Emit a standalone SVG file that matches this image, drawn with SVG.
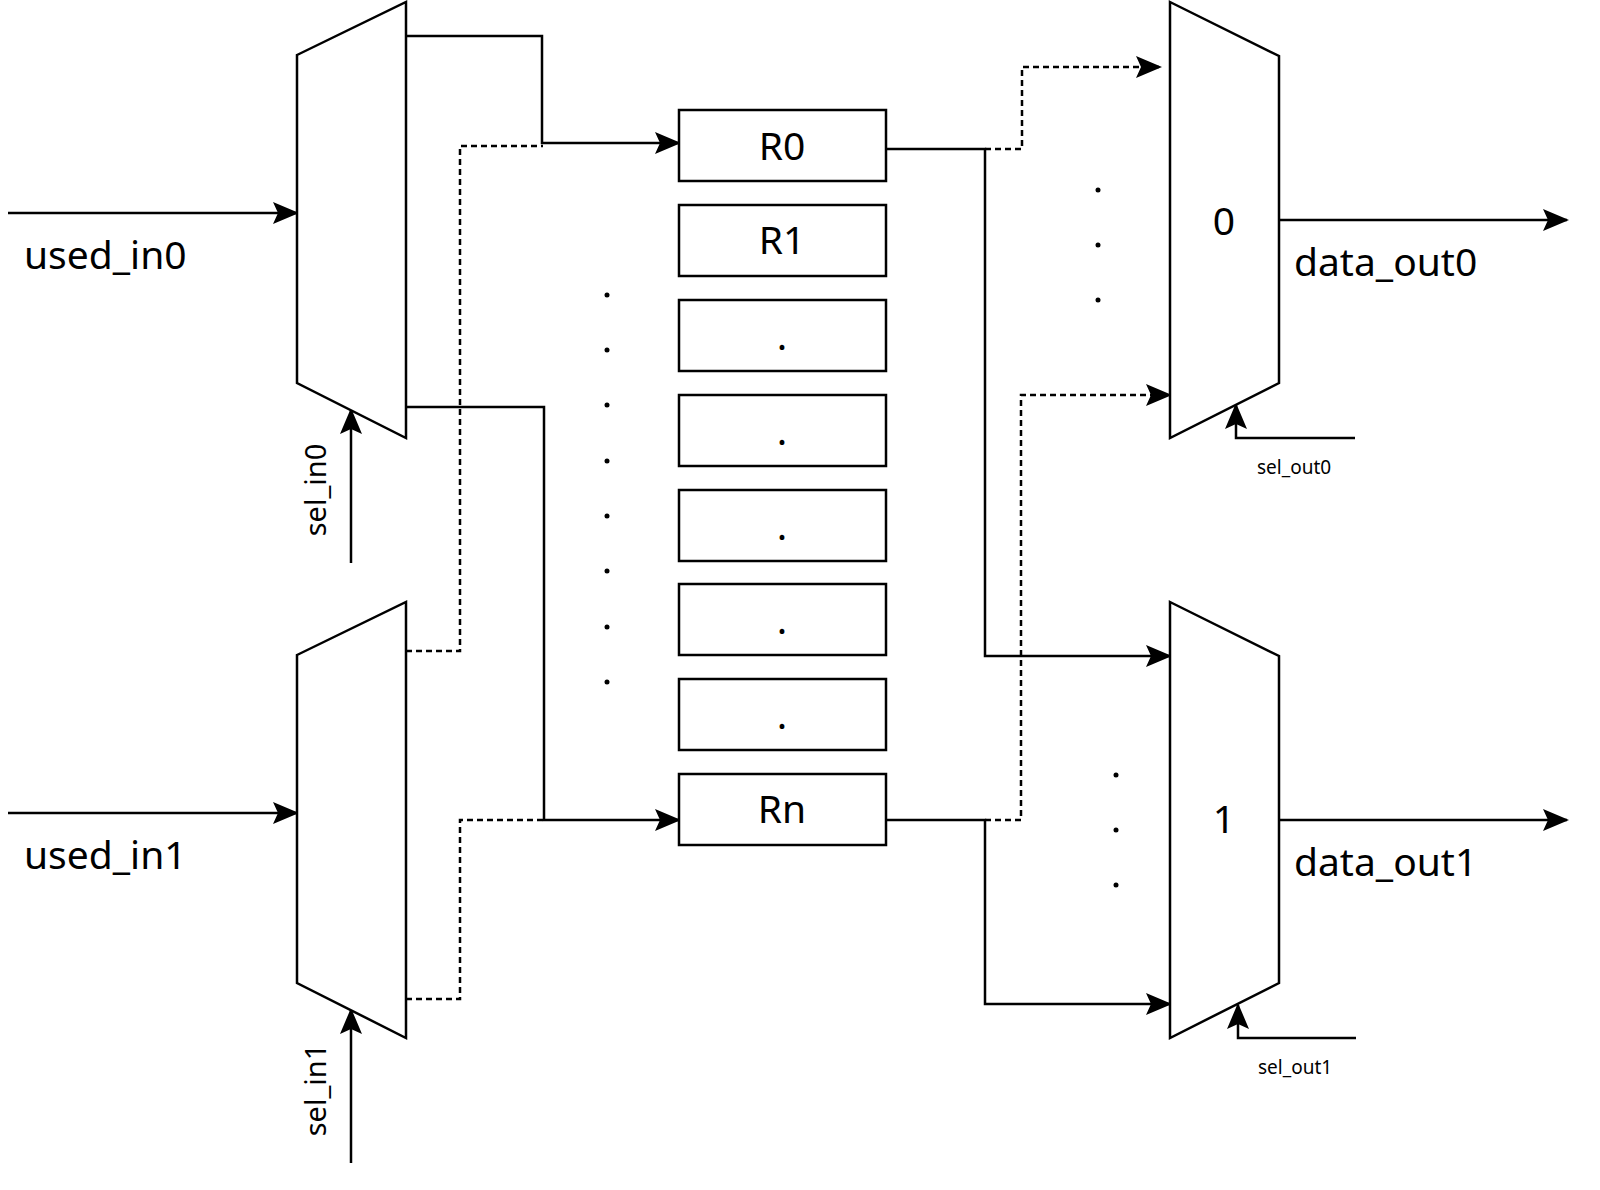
<svg xmlns="http://www.w3.org/2000/svg" width="1600" height="1190" viewBox="0 0 1600 1190">
<defs>
<marker id="ar" markerWidth="26" markerHeight="22" refX="24" refY="11" orient="auto" markerUnits="userSpaceOnUse"><path d="M0,0 L26,11 L0,22 L5,11 Z" fill="#000"/></marker>
<style>
.s{fill:#fff;stroke:#000;stroke-width:2.5}
.l{fill:none;stroke:#000;stroke-width:2.5}
.d{fill:none;stroke:#000;stroke-width:2.5;stroke-dasharray:6,4}
text{font-family:"Noto Sans","Open Sans",sans-serif;fill:#000}
.big{font-size:39px}
.sm{font-size:19px}
.dot{fill:#000}
</style>
</defs>
<rect width="1600" height="1190" fill="#fff"/>
<g id="connectors">
<path class="l" d="M406,36 H542 V143 H679" marker-end="url(#ar)"/>
<path class="d" d="M406,651 H460 V146 H543"/>
<path class="l" d="M406,407 H544 V820 H679" marker-end="url(#ar)"/>
<path class="d" d="M406,999 H460 V820 H544"/>
<path class="l" d="M8,213 H297" marker-end="url(#ar)"/>
<path class="l" d="M8,813 H297" marker-end="url(#ar)"/>
<path class="l" d="M351,563 V410" marker-end="url(#ar)"/>
<path class="l" d="M351,1163 V1010" marker-end="url(#ar)"/>
<path class="l" d="M886,149 H985 V656 H1170" marker-end="url(#ar)"/>
<path class="d" d="M985,149 H1022 V67 H1160" marker-end="url(#ar)"/>
<path class="l" d="M886,820 H985 V1004 H1170" marker-end="url(#ar)"/>
<path class="d" d="M985,820 H1021 V395 H1170" marker-end="url(#ar)"/>
<path class="l" d="M1279,220 H1567" marker-end="url(#ar)"/>
<path class="l" d="M1279,820 H1567" marker-end="url(#ar)"/>
<path class="l" d="M1355,438 H1236 V405" marker-end="url(#ar)"/>
<path class="l" d="M1356,1038 H1238 V1005" marker-end="url(#ar)"/>
</g>
<g id="mux_in0"><polygon class="s" points="297,55 406,2 406,438 297,383"/></g>
<g id="mux_in1"><polygon class="s" points="297,655 406,602 406,1038 297,983"/></g>
<g id="mux_out0"><polygon class="s" points="1170,2 1279,56 1279,383 1170,438"/><text class="big" x="1224" y="235" text-anchor="middle">0</text></g>
<g id="mux_out1"><polygon class="s" points="1170,602 1279,656 1279,983 1170,1038"/><text class="big" x="1224" y="833" text-anchor="middle">1</text></g>
<g id="R0"><rect class="s" x="679" y="110" width="207" height="71"/><text class="big" x="782" y="160" text-anchor="middle">R0</text></g>
<g id="R1"><rect class="s" x="679" y="205" width="207" height="71"/><text class="big" x="782" y="254" text-anchor="middle">R1</text></g>
<g id="R2"><rect class="s" x="679" y="300" width="207" height="71"/><text class="big" x="782" y="350" text-anchor="middle">.</text></g>
<g id="R3"><rect class="s" x="679" y="395" width="207" height="71"/><text class="big" x="782" y="445" text-anchor="middle">.</text></g>
<g id="R4"><rect class="s" x="679" y="490" width="207" height="71"/><text class="big" x="782" y="540" text-anchor="middle">.</text></g>
<g id="R5"><rect class="s" x="679" y="584" width="207" height="71"/><text class="big" x="782" y="634" text-anchor="middle">.</text></g>
<g id="R6"><rect class="s" x="679" y="679" width="207" height="71"/><text class="big" x="782" y="729" text-anchor="middle">.</text></g>
<g id="Rn"><rect class="s" x="679" y="774" width="207" height="71"/><text class="big" x="782" y="823" text-anchor="middle">Rn</text></g>
<g id="dots">
<circle class="dot" cx="607" cy="295" r="2.5"/><circle class="dot" cx="607" cy="350" r="2.5"/><circle class="dot" cx="607" cy="405" r="2.5"/><circle class="dot" cx="607" cy="461" r="2.5"/><circle class="dot" cx="607" cy="516" r="2.5"/><circle class="dot" cx="607" cy="571" r="2.5"/><circle class="dot" cx="607" cy="627" r="2.5"/><circle class="dot" cx="607" cy="682" r="2.5"/>
<circle class="dot" cx="1098" cy="190" r="2.5"/><circle class="dot" cx="1098" cy="245" r="2.5"/><circle class="dot" cx="1098" cy="300" r="2.5"/>
<circle class="dot" cx="1116" cy="775" r="2.5"/><circle class="dot" cx="1116" cy="830" r="2.5"/><circle class="dot" cx="1116" cy="885" r="2.5"/>
</g>
<g id="labels">
<text class="big" x="24" y="269">used_in0</text>
<text class="big" x="24" y="869">used_in1</text>
<text class="big" x="1294" y="276">data_out0</text>
<text class="big" x="1294" y="876">data_out1</text>
<text x="326" y="490" font-size="29" text-anchor="middle" transform="rotate(-90 326 490)">sel_in0</text>
<text x="326" y="1090" font-size="29" text-anchor="middle" transform="rotate(-90 326 1090)">sel_in1</text>
<text class="sm" x="1257" y="474">sel_out0</text>
<text class="sm" x="1258" y="1074">sel_out1</text>
</g>
</svg>
